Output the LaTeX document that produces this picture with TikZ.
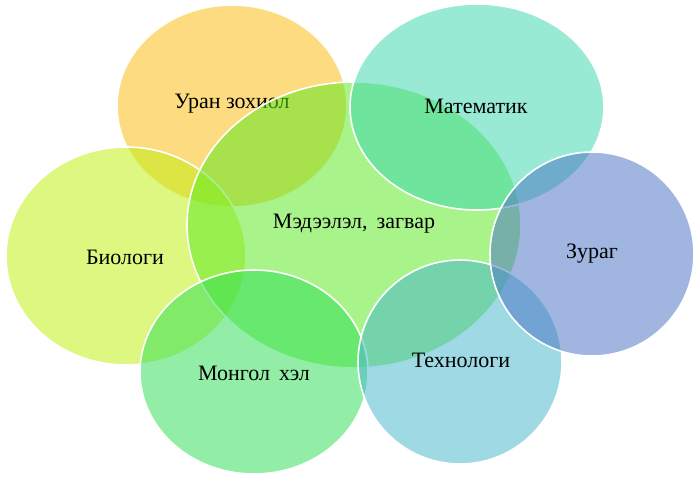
\documentclass[tikz,border=0pt]{standalone}
\usepackage{fontspec}
\setmainfont{Liberation Serif}
\begin{document}
\begin{tikzpicture}[x=1pt,y=-1pt,
  blob/.style={fill opacity=0.53, draw=white, draw opacity=1, line width=1.6pt},
  lbl/.style={font=\fontsize{22}{26}\selectfont, text=black}]
\useasboundingbox (0,0) rectangle (698,481);
\definecolor{cyel}{RGB}{251,187,15}
\definecolor{ccen}{RGB}{91,234,34}
\definecolor{cmat}{RGB}{61,215,174}
\definecolor{cbio}{RGB}{191,240,15}
\definecolor{czur}{RGB}{76,117,197}
\definecolor{cmon}{RGB}{49,223,87}
\definecolor{ctec}{RGB}{72,183,204}
% yellow
\filldraw[blob, fill=cyel] (232,106) ellipse [x radius=115, y radius=101];
\node[lbl] (uran) at (232,104) {Уран зохиол};
% biology
\filldraw[blob, fill=cbio] (126,256) ellipse [x radius=120, y radius=109];
\node[lbl] (bio) at (125,257) {Биологи};
% center
\filldraw[blob, fill=ccen] (354,225) ellipse [x radius=167, y radius=143];
\node[lbl] (med) at (354,224) {Мэдээлэл,\, загвар};
% math
\filldraw[blob, fill=cmat] (477,107) ellipse [x radius=127, y radius=103];
\node[lbl] (mat) at (476,106) {Математик};
% mongol
\filldraw[blob, fill=cmon] (254,372) ellipse [x radius=114, y radius=102];
\node[lbl] (mon) at (254,373) {Монгол\, хэл};
% tech
\filldraw[blob, fill=ctec] (460,362) ellipse [x radius=102, y radius=102];
\node[lbl] (tec) at (461,360) {Технологи};
% zurag
\filldraw[blob, fill=czur] (592,254) ellipse [x radius=102, y radius=102];
\node[lbl] (zur) at (592,254) {Зураг};
\end{tikzpicture}
\end{document}
